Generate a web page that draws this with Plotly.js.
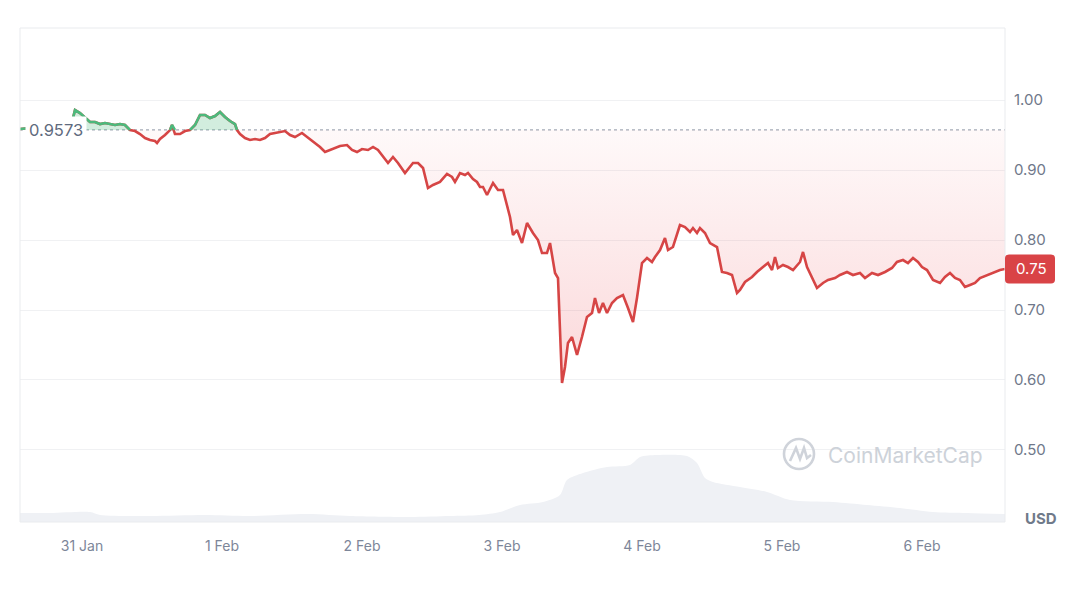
<!DOCTYPE html>
<html>
<head>
<meta charset="utf-8">
<script src="https://cdn.plot.ly/plotly-3.0.1.min.js"></script>
<style>html,body{margin:0;padding:0;background:#fff;}#chart{width:1073px;height:600px;}</style>
</head>
<body>
<div id="chart"></div>
<script>
// ---- data (hours since 31 Jan 00:00) ----
const baseDate = Date.UTC(2025, 0, 31);
const priceHours = [
-10.63,-8.91,-7.20,-5.49,-3.77,-2.06,-1.54,-1.20,-0.34,0.51,
1.37,2.23,3.09,3.94,4.80,5.66,6.51,7.37,8.23,9.09,
9.94,10.80,11.66,12.51,12.86,13.37,14.23,15.09,15.43,15.94,
16.80,17.66,18.51,19.37,20.23,21.09,21.94,22.80,23.66,24.51,
25.37,26.23,26.57,27.09,27.94,28.80,29.66,30.51,31.37,32.23,
33.09,33.94,34.80,35.66,36.51,37.71,38.57,39.60,40.80,41.66,
42.51,43.37,44.23,45.43,46.29,47.14,48.00,49.03,49.89,50.74,
51.60,52.46,53.31,54.17,55.37,55.89,56.74,57.60,58.46,59.31,
60.17,61.37,62.57,63.43,63.94,64.80,65.66,66.17,67.03,67.71,
68.23,68.74,69.43,70.46,71.31,72.17,72.86,73.37,73.89,74.57,
75.43,76.29,77.31,78.17,78.86,79.71,80.23,80.74,81.09,81.60,
81.94,82.29,82.80,83.31,84.00,84.86,85.71,86.57,87.43,87.94,
88.63,89.31,90.00,90.86,91.71,92.74,93.60,94.46,95.14,96.00,
96.86,97.71,98.23,99.09,99.94,100.46,101.31,102.51,103.37,104.23,
104.74,105.43,105.94,106.80,107.66,108.86,109.71,110.57,111.43,112.29,
112.80,113.66,114.86,115.71,116.74,117.60,118.29,118.80,119.31,120.17,
121.03,121.89,123.09,123.60,124.29,125.14,126.00,127.03,127.89,129.09,
129.94,131.14,132.17,133.37,134.23,135.43,136.46,137.66,138.86,139.71,
140.74,141.60,142.46,143.31,144.00,144.86,145.89,147.09,147.94,148.80,
149.66,150.51,151.37,152.23,153.09,153.94,155.14,156.17,157.37,158.23];
const priceUSD = [
0.9586,0.9600,0.9571,0.9614,0.9629,0.9657,0.9743,0.9857,0.9814,0.9757,
0.9686,0.9686,0.9657,0.9671,0.9657,0.9643,0.9657,0.9643,0.9571,0.9557,
0.9514,0.9457,0.9429,0.9414,0.9386,0.9443,0.9500,0.9571,0.9643,0.9514,
0.9514,0.9557,0.9571,0.9643,0.9786,0.9786,0.9743,0.9771,0.9829,0.9757,
0.9700,0.9657,0.9571,0.9514,0.9457,0.9429,0.9443,0.9429,0.9457,0.9514,
0.9529,0.9543,0.9557,0.9500,0.9471,0.9529,0.9471,0.9400,0.9329,0.9257,
0.9286,0.9314,0.9343,0.9357,0.9286,0.9257,0.9300,0.9286,0.9329,0.9286,
0.9186,0.9100,0.9186,0.9100,0.8957,0.9014,0.9100,0.9100,0.9029,0.8743,
0.8786,0.8829,0.8943,0.8900,0.8829,0.8957,0.8929,0.8957,0.8871,0.8829,
0.8757,0.8757,0.8643,0.8814,0.8714,0.8714,0.8500,0.8329,0.8071,0.8143,
0.7957,0.8243,0.8100,0.8000,0.7814,0.7814,0.7957,0.7671,0.7529,0.7457,
0.6571,0.5957,0.6186,0.6529,0.6614,0.6357,0.6614,0.6900,0.6957,0.7171,
0.6957,0.7100,0.6957,0.7100,0.7171,0.7214,0.7029,0.6829,0.7171,0.7671,
0.7743,0.7686,0.7757,0.7857,0.8029,0.7857,0.7900,0.8214,0.8186,0.8114,
0.8171,0.8100,0.8171,0.8100,0.7957,0.7900,0.7543,0.7529,0.7500,0.7243,
0.7286,0.7400,0.7471,0.7543,0.7614,0.7671,0.7571,0.7757,0.7600,0.7643,
0.7614,0.7571,0.7686,0.7829,0.7614,0.7471,0.7314,0.7386,0.7429,0.7457,
0.7500,0.7543,0.7500,0.7529,0.7457,0.7529,0.7500,0.7543,0.7600,0.7686,
0.7714,0.7671,0.7743,0.7686,0.7614,0.7571,0.7429,0.7386,0.7471,0.7529,
0.7457,0.7429,0.7329,0.7357,0.7386,0.7457,0.7500,0.7529,0.7571,0.7586];
const openPrice = 0.9573;
const openLabel = "0.9573";
const lastLabel = "0.75";

const volumeHours = [-10.63,-5.49,1.37,3.09,11.66,21.09,28.80,38.74,45.94,56.23,63.09,68.06,71.66,75.09,79.03,81.94,83.14,85.89,90.00,93.94,95.66,98.57,103.71,105.43,106.80,108.17,112.80,117.43,121.37,128.74,134.57,140.23,145.89,151.71,158.23];
const volumeRel = [9,9,10,7,6,7,6,8,6,5,6,7,10,17,20,27,42,49,55,57,65,67,66,59,44,40,35,30,22,20,17,14,10,9,8];

const tickDates = ['2025-01-31','2025-02-01','2025-02-02','2025-02-03','2025-02-04','2025-02-05','2025-02-06'];
const tickLabels = ['31 Jan','1 Feb','2 Feb','3 Feb','4 Feb','5 Feb','6 Feb'];
const yTicks = [0.5,0.6,0.7,0.8,0.9,1.0];

// ---- helpers ----
function pad(n){return String(n).padStart(2,'0');}
function hToDate(h){
  const d = new Date(baseDate + Math.round(h*3600000));
  return d.getUTCFullYear()+'-'+pad(d.getUTCMonth()+1)+'-'+pad(d.getUTCDate())+' '+pad(d.getUTCHours())+':'+pad(d.getUTCMinutes())+':'+pad(d.getUTCSeconds());
}
const xs = priceHours.map(hToDate);
const vx = volumeHours.map(hToDate);
const baseArr = xs.map(()=>openPrice);
const lowArr = priceUSD.map(p=>Math.min(p, openPrice));
const highArr = priceUSD.map(p=>Math.max(p, openPrice));
const greenLine = priceUSD.map((p,i)=>{
  const up = v => v !== undefined && v >= openPrice;
  if (up(p) || up(priceUSD[i-1]) || up(priceUSD[i+1])) return Math.max(p, openPrice);
  return null;
});
const lastPrice = priceUSD[priceUSD.length-1];

const RED = '#d64545', GREEN = '#4cb97c', TAG = '#d94346';
const FONT = 'Inter, "Noto Sans", sans-serif';

const traces = [
  {x: vx, y: volumeRel, yaxis:'y2', type:'scatter', mode:'lines', line:{width:0, shape:'spline', smoothing:0.8}, fill:'tozeroy', fillcolor:'#eff1f5', hoverinfo:'skip'},
  {x: xs, y: baseArr, type:'scatter', mode:'lines', line:{width:0}, hoverinfo:'skip'},
  {x: xs, y: lowArr, type:'scatter', mode:'lines', line:{width:0}, fill:'tonexty',
   fillgradient:{type:'vertical', start:0.59, stop:openPrice, colorscale:[[0,'rgba(234,57,67,0.20)'],[1,'rgba(234,57,67,0.03)']]}, hoverinfo:'skip'},
  {x: xs, y: baseArr, type:'scatter', mode:'lines', line:{width:0}, hoverinfo:'skip'},
  {x: xs, y: highArr, type:'scatter', mode:'lines', line:{width:0}, fill:'tonexty', fillcolor:'rgba(76,185,124,0.25)', hoverinfo:'skip'},
  {x: xs, y: priceUSD, type:'scatter', mode:'lines', line:{color:RED, width:2.6}},
  {x: xs, y: greenLine, type:'scatter', mode:'lines', line:{color:GREEN, width:2.6}, connectgaps:false}
];

const L=20, R=1005, T=28, B=522;
const px = v => (v-L)/(R-L);
const py = v => (B-v)/(B-T);

// rounded tag (pixel sized, anchored at right edge / last price)
const tw=50, th=29, rr=4, h2=th/2;
const tagPath = 'M 0,'+(-h2+rr)+' L 0,'+(h2-rr)+' Q 0,'+h2+' '+rr+','+h2+' L '+(tw-rr)+','+h2+' Q '+tw+','+h2+' '+tw+','+(h2-rr)+
  ' L '+tw+','+(-h2+rr)+' Q '+tw+','+(-h2)+' '+(tw-rr)+','+(-h2)+' L '+rr+','+(-h2)+' Q 0,'+(-h2)+' 0,'+(-h2+rr)+' Z';

const layout = {
  width:1073, height:600,
  margin:{l:L, r:1073-R, t:T, b:600-B},
  paper_bgcolor:'#ffffff', plot_bgcolor:'#ffffff',
  showlegend:false,
  font:{family:FONT},
  xaxis:{type:'date', range:[xs[0], xs[xs.length-1]], tickvals:tickDates, ticktext:tickLabels,
         showgrid:false, zeroline:false, showline:false, ticks:'',
         tickfont:{family:FONT, size:14, color:'#7d8699'}, ticklabelstandoff:14},
  yaxis:{range:[0.3971, 1.1029], side:'right', tickvals:yTicks, tickformat:'.2f',
         showgrid:true, gridcolor:'#f0f1f3', gridwidth:1, zeroline:false, showline:false, ticks:'',
         tickfont:{family:FONT, size:15, color:'#6f788a'}, ticklabelstandoff:8},
  yaxis2:{overlaying:'y', range:[0, 494], visible:false, fixedrange:true},
  shapes:[
    {type:'line', xref:'paper', yref:'y', x0:0, x1:1, y0:openPrice, y1:openPrice, line:{color:'#a4abb7', width:1.2, dash:'dot'}, layer:'below'},
    {type:'rect', xref:'paper', yref:'paper', x0:0, x1:1, y0:0, y1:1, line:{color:'#e9ebee', width:1}},
    {type:'circle', xref:'paper', yref:'paper', x0:px(784), x1:px(814), y0:py(469), y1:py(439), line:{color:'#cfd3da', width:2.6}},
    {type:'path', xref:'paper', yref:'paper',
     path:'M '+px(790)+','+py(461)+' L '+px(796)+','+py(448)+' L '+px(800)+','+py(459)+' L '+px(804)+','+py(448)+' L '+px(807)+','+py(458)+' L '+px(811)+','+py(455),
     line:{color:'#cfd3da', width:2.6}},
    {type:'path', xref:'paper', xsizemode:'pixel', xanchor:1, yref:'y', ysizemode:'pixel', yanchor:lastPrice,
     path:tagPath, fillcolor:TAG, line:{width:0}, layer:'above'}
  ],
  annotations:[
    {xref:'paper', yref:'y', x:px(25), y:openPrice, xanchor:'left', yanchor:'middle', text:openLabel, showarrow:false,
     bgcolor:'#ffffff', borderpad:3, font:{family:FONT, size:16.5, color:'#5f6b7e'}},
    {xref:'paper', yref:'y', x:1, y:lastPrice, xanchor:'left', yanchor:'middle', xshift:9, text:lastLabel, showarrow:false,
     font:{family:FONT, size:15, color:'#ffffff'}},
    {xref:'paper', yref:'paper', x:px(826), y:py(455), xanchor:'left', yanchor:'middle', text:'CoinMarketCap', showarrow:false,
     font:{family:FONT, size:21, color:'#cdd2d9'}},
    {xref:'paper', yref:'paper', x:1, y:py(518), xanchor:'left', yanchor:'middle', xshift:18, text:'<b>USD</b>', showarrow:false,
     font:{family:FONT, size:15, color:'#707a8a'}}
  ]
};

Plotly.newPlot('chart', traces, layout, {displayModeBar:false, staticPlot:true});
</script>
</body>
</html>
